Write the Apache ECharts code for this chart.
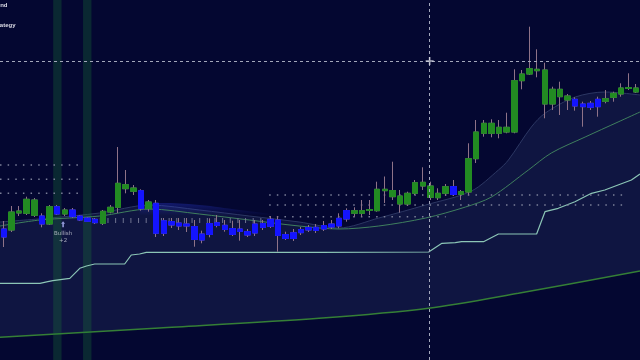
<!DOCTYPE html>
<html>
<head>
<meta charset="utf-8">
<script src="https://cdn.jsdelivr.net/npm/echarts@6/dist/echarts.min.js"></script>
<style>html,body{margin:0;padding:0;background:#040731;}#c{width:640px;height:360px;}</style>
</head>
<body>
<div id="c"></div>
<script>
// ---- data ----
const categories = ['09:30','09:35','09:40','09:45','09:50','09:55',
'10:00','10:05','10:10','10:15','10:20','10:25','10:30','10:35','10:40','10:45','10:50','10:55',
'11:00','11:05','11:10','11:15','11:20','11:25','11:30','11:35','11:40','11:45','11:50','11:55',
'12:00','12:05','12:10','12:15','12:20','12:25','12:30','12:35','12:40','12:45','12:50','12:55',
'13:00','13:05','13:10','13:15','13:20','13:25','13:30','13:35','13:40','13:45','13:50','13:55',
'14:00','14:05','14:10','14:15','14:20','14:25','14:30','14:35','14:40','14:45','14:50','14:55',
'15:00','15:05','15:10','15:15','15:20','15:25','15:30','15:35','15:40','15:45','15:50','15:55',
'16:00','16:05','16:10','16:15','16:20','16:25'];

const opens = [113.1,113.0,114.7,114.67,114.47,114.4,113.6,115.33,114.6,115.0,114.4,114.2,114.07,113.67,114.8,115.27,117.13,116.87,116.93,115.13,
115.67,113.93,113.85,113.7,113.6,113.35,112.6,113.65,113.73,113.47,113.15,113.1,112.85,113.6,113.65,114.07,114.0,112.55,112.73,113.05,
113.25,113.27,113.45,113.6,114.17,114.95,114.67,114.67,114.95,114.93,116.93,116.33,115.6,115.6,116.67,117.4,116.27,116.23,116.67,117.35,
116.57,116.8,120.13,122.67,122.67,122.67,122.8,122.8,127.93,128.6,128.93,125.6,125.6,126.33,126.0,126.07,125.6,125.67,126.07,125.87,
126.27,126.6,127.15,126.8];
const closes = [112.3,114.8,114.9,116.07,116.0,113.6,115.33,114.6,115.0,114.33,114.0,113.87,113.73,114.87,115.27,117.67,117.53,117.2,115.13,115.8,
112.67,112.67,113.5,113.4,113.4,112.05,112.0,112.55,113.45,113.05,112.55,112.85,112.5,112.7,113.25,113.37,112.45,112.15,112.15,112.73,
113.0,112.95,113.1,113.3,113.4,114.1,114.93,114.93,115.05,117.07,117.07,116.95,116.4,116.67,117.73,117.77,117.4,116.67,117.33,116.55,
116.83,120.13,122.8,123.67,123.67,123.27,123.27,127.93,128.6,129.13,129.07,129.0,127.07,127.07,126.4,125.4,125.33,125.27,125.33,126.13,
126.67,127.2,127.25,127.2];
const lows = [111.3,112.8,114.4,114.5,114.3,113.27,113.5,114.5,114.4,114.2,113.9,113.8,113.6,113.5,114.67,114.7,116.67,116.5,114.93,114.83,
112.3,112.4,113.2,113.0,112.8,111.33,111.67,112.27,113.27,112.83,112.4,111.93,112.3,112.4,113.0,113.2,110.83,112.0,111.9,112.5,
112.8,112.7,112.9,113.1,113.17,113.83,114.33,114.33,114.5,114.83,115.7,116.0,114.73,115.4,116.5,117.0,116.0,116.0,116.4,116.4,
116.0,116.5,119.7,122.33,122.27,122.17,122.67,122.67,127.07,128.5,128.27,124.17,125.0,124.5,125.0,124.93,123.33,125.0,124.33,125.67,
125.83,126.33,127.0,126.7];
const highs = [113.9,115.4,115.4,116.33,116.2,114.67,115.5,115.5,115.2,115.2,114.5,114.3,114.2,115.0,115.5,121.3,119.0,117.5,117.07,116.0,
116.0,114.2,114.2,114.2,114.2,114.0,112.93,114.17,114.5,114.0,113.93,114.0,113.1,114.0,114.0,114.4,114.4,112.83,113.1,113.3,
113.5,113.6,113.9,114.0,114.67,115.17,115.27,116.0,116.0,117.83,118.35,119.83,117.0,116.83,118.0,119.27,117.83,117.17,117.6,118.0,
117.0,121.67,124.0,124.0,124.07,124.0,124.73,129.07,129.0,133.33,131.07,129.73,127.33,127.83,126.6,126.27,125.83,125.9,126.33,127.0,
126.83,127.67,128.67,127.6];

// indicator lines: [bar position, price]
const upperBand = [[-0.5,113.8],[6.04,114.2],[12.59,114.7],[19.13,115.5],[25.67,115.0],[32.21,114.4],[38.75,113.8],[43.99,113.2],
  [49.22,114.2],[55.37,115.5],[61.39,116.9],[64.92,119.0],[66.23,120.0],[69.24,123.3],[71.07,124.7],[75.0,126.3],[78.92,126.8],[83.5,126.5]];
const longLine = [[-0.5,102.27],[20.44,103.2],[41.37,104.17],[55.76,105.17],[67.54,106.67],[83.5,108.9]];
const maLine = [[-0.5,113.4],[4.74,114.0],[12.59,114.4],[19.13,115.1],[25.67,114.6],[32.21,114.0],[38.75,113.4],[43.99,113.1],
  [49.22,113.4],[55.37,114.2],[60.6,115.3],[64.0,116.3],[68.85,119.0],[71.86,120.7],[76.3,122.3],[80.62,123.8],[83.5,124.8]];
const stepLine = [[-0.5,107.67],[4.74,107.67],[5.78,107.83],[6.44,107.93],[8.66,108.17],[9.97,109.17],[10.85,109.4],[11.93,109.6],
  [15.86,109.6],[16.73,110.5],[17.82,110.6],[18.7,110.77],[41.37,110.77],[55.76,110.8],[57.5,111.67],[59.26,111.73],[60.08,111.83],
  [62.96,111.83],[64.92,112.6],[69.93,112.6],[71.03,114.83],[72.77,115.17],[74.96,115.83],[77.13,116.67],[78.88,117.0],[80.62,117.5],
  [82.37,118.0],[83.5,118.6]];
const blueCloud = [[17.82,115.4],[20.44,115.7],[25.67,115.5],[30.9,115.0],[34.83,114.6],[38.75,114.0]];
const signalBands = [[6.48,7.58],[10.4,11.5]];
const dotRowsLeft = [119.5,118.07,116.67];
const dotRowsLeftSpan = [-0.5,10.23];
const dotRowsRight = [116.5,115.5];
const dotRowsRightSpan = [34.83,81.93];
const dotRowShort = 114.33;
const dotRowShortSpan = [34.83,57.99];
const tickRow = 113.95;
const tickRowSpan = [11.6,34.3];
const crossX = 55.89;
const crossY = 129.9;
const signalPoint = [7.78,113.58];
const signalText = ['Bullish','+2'];
const cornerTexts = ['Trend','Strategy'];

// ---- chart ----
const BG = '#040731';
const wick = '#8f7388';
const chart = echarts.init(document.getElementById('c'), null, {renderer:'canvas'});

function row(y, span, z) {
  return {type:'line', xAxisIndex:1, data:[[span[0],y],[span[1],y]], symbol:'none', silent:true, z:z||4,
    lineStyle:{color:'#7c8099', width:1.5, type:[1.5,6.14], cap:'butt'}};
}

const bodies = opens.map((o,i)=>[o, closes[i], Math.min(o,closes[i]), Math.max(o,closes[i])]);
const full = opens.map((o,i)=>[o, closes[i], lows[i], highs[i]]);

const series = [
  {type:'line', xAxisIndex:1, data:upperBand, smooth:0.3, symbol:'none', silent:true, z:1,
   lineStyle:{color:'#2c3763', width:1}, areaStyle:{color:'#0f1541', opacity:1, origin:'start'}},
  {type:'line', xAxisIndex:1, data:longLine, smooth:0.3, symbol:'none', silent:true, z:2,
   lineStyle:{color:'#357f36', width:1.5}, areaStyle:{color:BG, opacity:1, origin:'start'}},
  {type:'line', xAxisIndex:1, data:blueCloud, smooth:0.4, symbol:'none', silent:true, z:3,
   lineStyle:{width:0},
   areaStyle:{origin:'start', opacity:1, color:{type:'linear', x:0, y:0, x2:0, y2:1,
     colorStops:[{offset:0,color:'rgba(45,60,220,0.35)'},{offset:0.08,color:'rgba(45,60,220,0)'}]}}},
  {type:'line', xAxisIndex:1, data:[[0,100]], symbol:'none', silent:true, z:3, lineStyle:{opacity:0},
   markArea:{silent:true, z:3, itemStyle:{color:'rgba(30,125,55,0.28)'},
     data: signalBands.map(b=>[{xAxis:b[0]},{xAxis:b[1]}])}},
  {type:'line', xAxisIndex:1, data:stepLine, symbol:'none', silent:true, z:4,
   lineStyle:{color:'#8cc6b6', width:1.2}},
  {type:'line', xAxisIndex:1, data:maLine, smooth:0.3, symbol:'none', silent:true, z:4,
   lineStyle:{color:'#3f7f5e', width:1}},
  ...dotRowsLeft.map(y=>row(y, dotRowsLeftSpan)),
  ...dotRowsRight.map(y=>row(y, dotRowsRightSpan)),
  row(dotRowShort, dotRowShortSpan),
  {type:'line', xAxisIndex:1, data:[[tickRowSpan[0],tickRow],[tickRowSpan[1],tickRow]], symbol:'none', silent:true, z:4,
   lineStyle:{color:'#6f7390', width:5, type:[1,6.643], cap:'butt'}},
  {type:'candlestick', xAxisIndex:0, data:full, barWidth:6, silent:true, z:5,
   itemStyle:{color:'#228b22', color0:'#1414ff', borderColor:wick, borderColor0:wick, borderWidth:1}},
  {type:'candlestick', xAxisIndex:0, data:bodies, barWidth:6, silent:true, z:6,
   itemStyle:{color:'#228b22', color0:'#1414ff', borderColor:'#228b22', borderColor0:'#1414ff', borderWidth:1}},
  {type:'line', xAxisIndex:1, data:[[0,100]], symbol:'none', silent:true, z:7, lineStyle:{opacity:0},
   markLine:{silent:true, z:7, symbol:'none', label:{show:false},
     lineStyle:{color:'#a3a7bb', width:1, type:[3,3]},
     data:[{xAxis:crossX},{yAxis:crossY}]}},
  {type:'scatter', xAxisIndex:1, data:[[crossX,crossY]], silent:true, z:8,
   symbol:'path://M4,0H6V4H10V6H6V10H4V6H0V4H4Z', symbolSize:8, itemStyle:{color:'#d8dae4'}},
  {type:'scatter', xAxisIndex:1, data:[signalPoint], silent:true, z:8,
   symbol:'path://M5,0L10,5H7V12H3V5H0Z', symbolSize:[4,6], itemStyle:{color:'#b4bcff'},
   label:{show:true, position:'bottom', distance:3.3, formatter:signalText.join('\n'),
     fontSize:5.5, lineHeight:6.5, color:'#d0d2dc', fontFamily:'DejaVu Sans'}}
];

chart.setOption({
  animation:false,
  backgroundColor:BG,
  grid:{left:0, right:-2, top:0, bottom:0, containLabel:false},
  xAxis:[
    {type:'category', data:categories, boundaryGap:true, show:false},
    {type:'value', min:-0.5, max:83.5, show:false}
  ],
  yAxis:{type:'value', min:100, max:136, show:false, splitLine:{show:false}},
  graphic:[
    {type:'text', x:7.5, y:5, z:10, style:{text:cornerTexts[0], align:'right', verticalAlign:'middle',
      fill:'#dcdce6', font:'bold 6px "Liberation Sans"'}},
    {type:'text', x:15.5, y:25.5, z:10, style:{text:cornerTexts[1], align:'right', verticalAlign:'middle',
      fill:'#dcdce6', font:'bold 6px "Liberation Sans"'}}
  ],
  series:series
});
</script>
</body>
</html>
